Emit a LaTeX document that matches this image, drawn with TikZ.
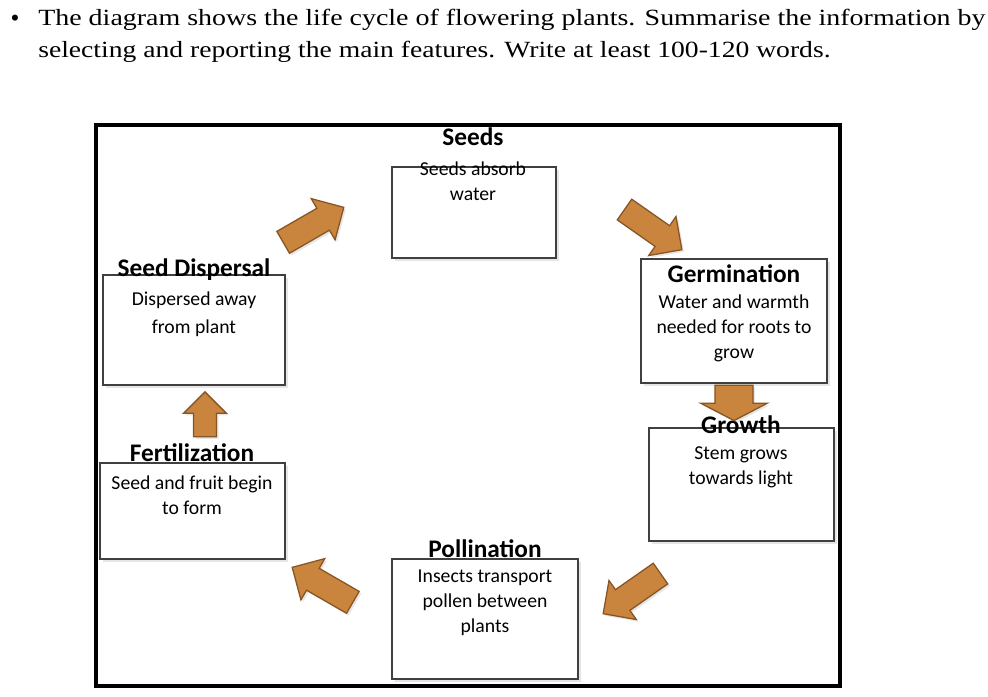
\documentclass[tikz,border=0pt]{standalone}
\usepackage{fontspec}
\setmainfont{Liberation Serif}
\newfontfamily\carlito{Carlito}
\usetikzlibrary{shapes.arrows,shadows,fit}
\definecolor{arrowfill}{RGB}{201,132,62}
\definecolor{arrowline}{RGB}{135,84,36}

\begin{document}
\begin{tikzpicture}[
        x=0.025cm, y=-0.025cm,
        box/.style={draw=black!75, line width=0.8pt, fill=white, inner sep=0pt, drop shadow={shadow xshift=2pt, shadow yshift=-2pt, opacity=0.2}},
        frame/.style={draw=black, line width=3.5pt, inner sep=0pt},
        title/.style={font=\carlito\bfseries\fontsize{18}{20}\selectfont, inner sep=0pt},
        txt/.style={font=\carlito\fontsize{14}{17.7}\selectfont, align=center, inner sep=0pt},
        head/.style={font=\fontsize{16.5}{18}\selectfont, anchor=west, inner sep=0pt},
        blockarrow/.style={single arrow, draw=arrowline, fill=arrowfill, line width=0.9pt, inner xsep=0pt, inner ysep=0.3cm, minimum height=1.75cm, single arrow head extend=0.28cm, single arrow tip angle=90, drop shadow={shadow xshift=1.5pt, shadow yshift=-1.5pt, opacity=0.2}}
    ]
        \useasboundingbox (0,0) rectangle (988,697);

        % task text
        \node[inner sep=0pt, font=\fontsize{18}{18}\selectfont] (bullet) at (15,21) {\textbullet};
        \node[head] (line1) at (38,20) {\resizebox{23.675cm}{\height}{The diagram shows the life cycle of flowering plants. Summarise the information by}};
        \node[head] (line2) at (38,52) {\resizebox{19.8cm}{\height}{selecting and reporting the main features. Write at least 100-120 words.}};

        \node[frame, fit={(96,125) (840,686)}] (frame) {};

        % stage boxes
        \node[box, fit={(392,167) (556,258)}] (seeds) {};
        \node[box, fit={(641,259) (827,383)}] (germination) {};
        \node[box, fit={(649,428) (834,541)}] (growth) {};
        \node[box, fit={(392,559) (578,679)}] (pollination) {};
        \node[box, fit={(100,463) (285,559)}] (fertilization) {};
        \node[box, fit={(103,275) (285,385)}] (dispersal) {};

        % titles
        \node[title] (seedsT) at (473,137) {Seeds};
        \node[title] (germinationT) at (734,274) {Germination};
        \node[title] (growthT) at (741,425) {Growth};
        \node[title] (pollinationT) at (485,549) {Pollination};
        \node[title] (fertilizationT) at (192,453) {Fertilization};
        \node[title] (dispersalT) at (194,270) {Seed Dispersal};

        % texts
        \node[txt] (seedsX) at (473,181) {Seeds absorb\\water};
        \node[txt] (germinationX) at (734,328.5) {Water and warmth\\needed for roots to\\grow};
        \node[txt] (growthX) at (741,467.5) {Stem grows\\towards light};
        \node[txt] (pollinationX) at (485,603) {Insects transport\\pollen between\\plants};
        \node[txt] (fertilizationX) at (192,495.5) {Seed and fruit begin\\to form};
        \node[txt, font=\carlito\fontsize{14}{19.8}\selectfont] (dispersalX) at (194,314) {Dispersed away\\from plant};

        % block arrows
        \node[blockarrow, rotate=30] (a1) at (308,228) {};
        \node[blockarrow, rotate=-35] (a2) at (648,226) {};
        \node[blockarrow, rotate=-90, minimum height=0.88cm, inner ysep=0.46cm, single arrow head extend=0.36cm, single arrow tip angle=125] (a3) at (734,398) {};
        \node[blockarrow, rotate=215] (a4) at (637,590) {};
        \node[blockarrow, rotate=150] (a5) at (328,588) {};
        \node[blockarrow, rotate=90, minimum height=1.12cm, inner ysep=0.27cm, single arrow head extend=0.25cm] (a6) at (205,420) {};

    \end{tikzpicture}
\end{document}
